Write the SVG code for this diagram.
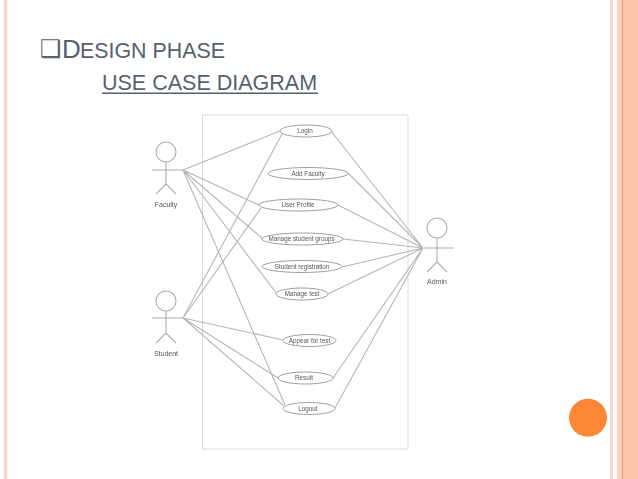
<svg xmlns="http://www.w3.org/2000/svg" width="638" height="479" viewBox="0 0 638 479">
<defs>
<filter id="soft" x="-5%" y="-5%" width="110%" height="110%"><feGaussianBlur stdDeviation="0.5"/></filter>
</defs>
<style>
.title{font-family:"Liberation Sans",Arial,sans-serif;fill:#585f6f}
.uc{fill:#fff;stroke:#a0a0a0;stroke-width:1}
.ln{fill:none;stroke:#b6b6b6;stroke-width:1.100}
.ac{fill:none;stroke:#adadad;stroke-width:1.100}
.lb{font-family:"Liberation Sans",Arial,sans-serif;font-size:6.300px;fill:#555;text-anchor:middle}
.al{font-size:7px}
</style>
<rect width="638" height="479" fill="#fff"/>
<g id="decor">
<rect x="3.7" y="0" width="3.6" height="479" fill="#f7d8cd"/>
<rect x="610" y="0" width="3" height="479" fill="#f9d5ca"/>
<rect x="617" y="0" width="21" height="479" fill="#fdd3c0"/>
<rect x="622.500" y="0" width="15.500" height="479" fill="#fec5ad"/>
<rect x="622" y="0" width="1" height="479" fill="#e59a7c"/>
<circle cx="588" cy="417.700" r="19" fill="#fd8637"/>
</g>
<g id="heading">
<text class="title" x="40" y="57" font-size="24" style="font-family:'DejaVu Sans',sans-serif">❑</text>
<text class="title" x="62" y="58" font-size="26">D</text>
<text class="title" x="80" y="58" font-size="21.400">ESIGN PHASE</text>
<text class="title" x="102" y="90" font-size="21.500">USE CASE DIAGRAM</text>
<rect x="102" y="92.500" width="216" height="1.500" fill="#585f6f"/>
</g>
<g filter="url(#soft)">
<rect id="system-boundary" x="202.500" y="115" width="205.500" height="334" fill="#fff" stroke="#dcdcdc" stroke-width="1"/>
<g id="connectors" class="ln">
<path d="M183 170L280 131M183 170L259 205M183 170L263 239M183 170L277 294M183 170L285 405"/>
<path d="M183 318L282 134M183 318L261 208M183 318L283 340M183 318L278 378M183 318L284 406"/>
<path d="M423 248L331 131M423 248L348 173M423 248L338 205M423 248L343 239M423 248L342 267M423 248L328 294M423 248L333 378M423 248L335 408"/>
</g>
<g id="actor-faculty"><circle class="ac" cx="166" cy="152" r="10"/><path class="ac" d="M166 162V184M152 170H183M166 184L156 194M166 184L176 194"/><text class="lb al" x="166" y="207">Faculty</text></g>
<g id="actor-student"><circle class="ac" cx="166" cy="301" r="10"/><path class="ac" d="M166 311V333M152 318H183M166 333L156 343M166 333L176 343"/><text class="lb al" x="166" y="356">Student</text></g>
<g id="actor-admin"><circle class="ac" cx="437" cy="228" r="10"/><path class="ac" d="M437 238V262M424 248H454M437 262L427 272M437 262L447 272"/><text class="lb al" x="437" y="284">Admin</text></g>
<g id="uc-login"><ellipse class="uc" cx="306" cy="131" rx="26" ry="6"/><text class="lb" x="305" y="133.300">Login</text></g>
<g id="uc-add-faculty"><ellipse class="uc" cx="308" cy="173.500" rx="40" ry="6"/><text class="lb" x="308" y="175.800">Add Faculty</text></g>
<g id="uc-user-profile"><ellipse class="uc" cx="298.500" cy="205" rx="39.500" ry="6"/><text class="lb" x="298" y="207.300">User Profile</text></g>
<g id="uc-manage-groups"><ellipse class="uc" cx="302.500" cy="239" rx="40.500" ry="6"/><text class="lb" x="301.500" y="241.300">Manage student groups</text></g>
<g id="uc-student-registration"><ellipse class="uc" cx="302" cy="266.500" rx="40" ry="6"/><text class="lb" x="302" y="268.800">Student registration</text></g>
<g id="uc-manage-test"><ellipse class="uc" cx="302" cy="294" rx="26" ry="6"/><text class="lb" x="302" y="296.300">Manage test</text></g>
<g id="uc-appear"><ellipse class="uc" cx="309.500" cy="340.500" rx="26.500" ry="6"/><text class="lb" x="309.500" y="342.800">Appear for test</text></g>
<g id="uc-result"><ellipse class="uc" cx="305.500" cy="378" rx="27.500" ry="6"/><text class="lb" x="304" y="380.300">Result</text></g>
<g id="uc-logout"><ellipse class="uc" cx="309" cy="408.500" rx="26" ry="6"/><text class="lb" x="308" y="410.800">Logout</text></g>
</g>
</svg>
